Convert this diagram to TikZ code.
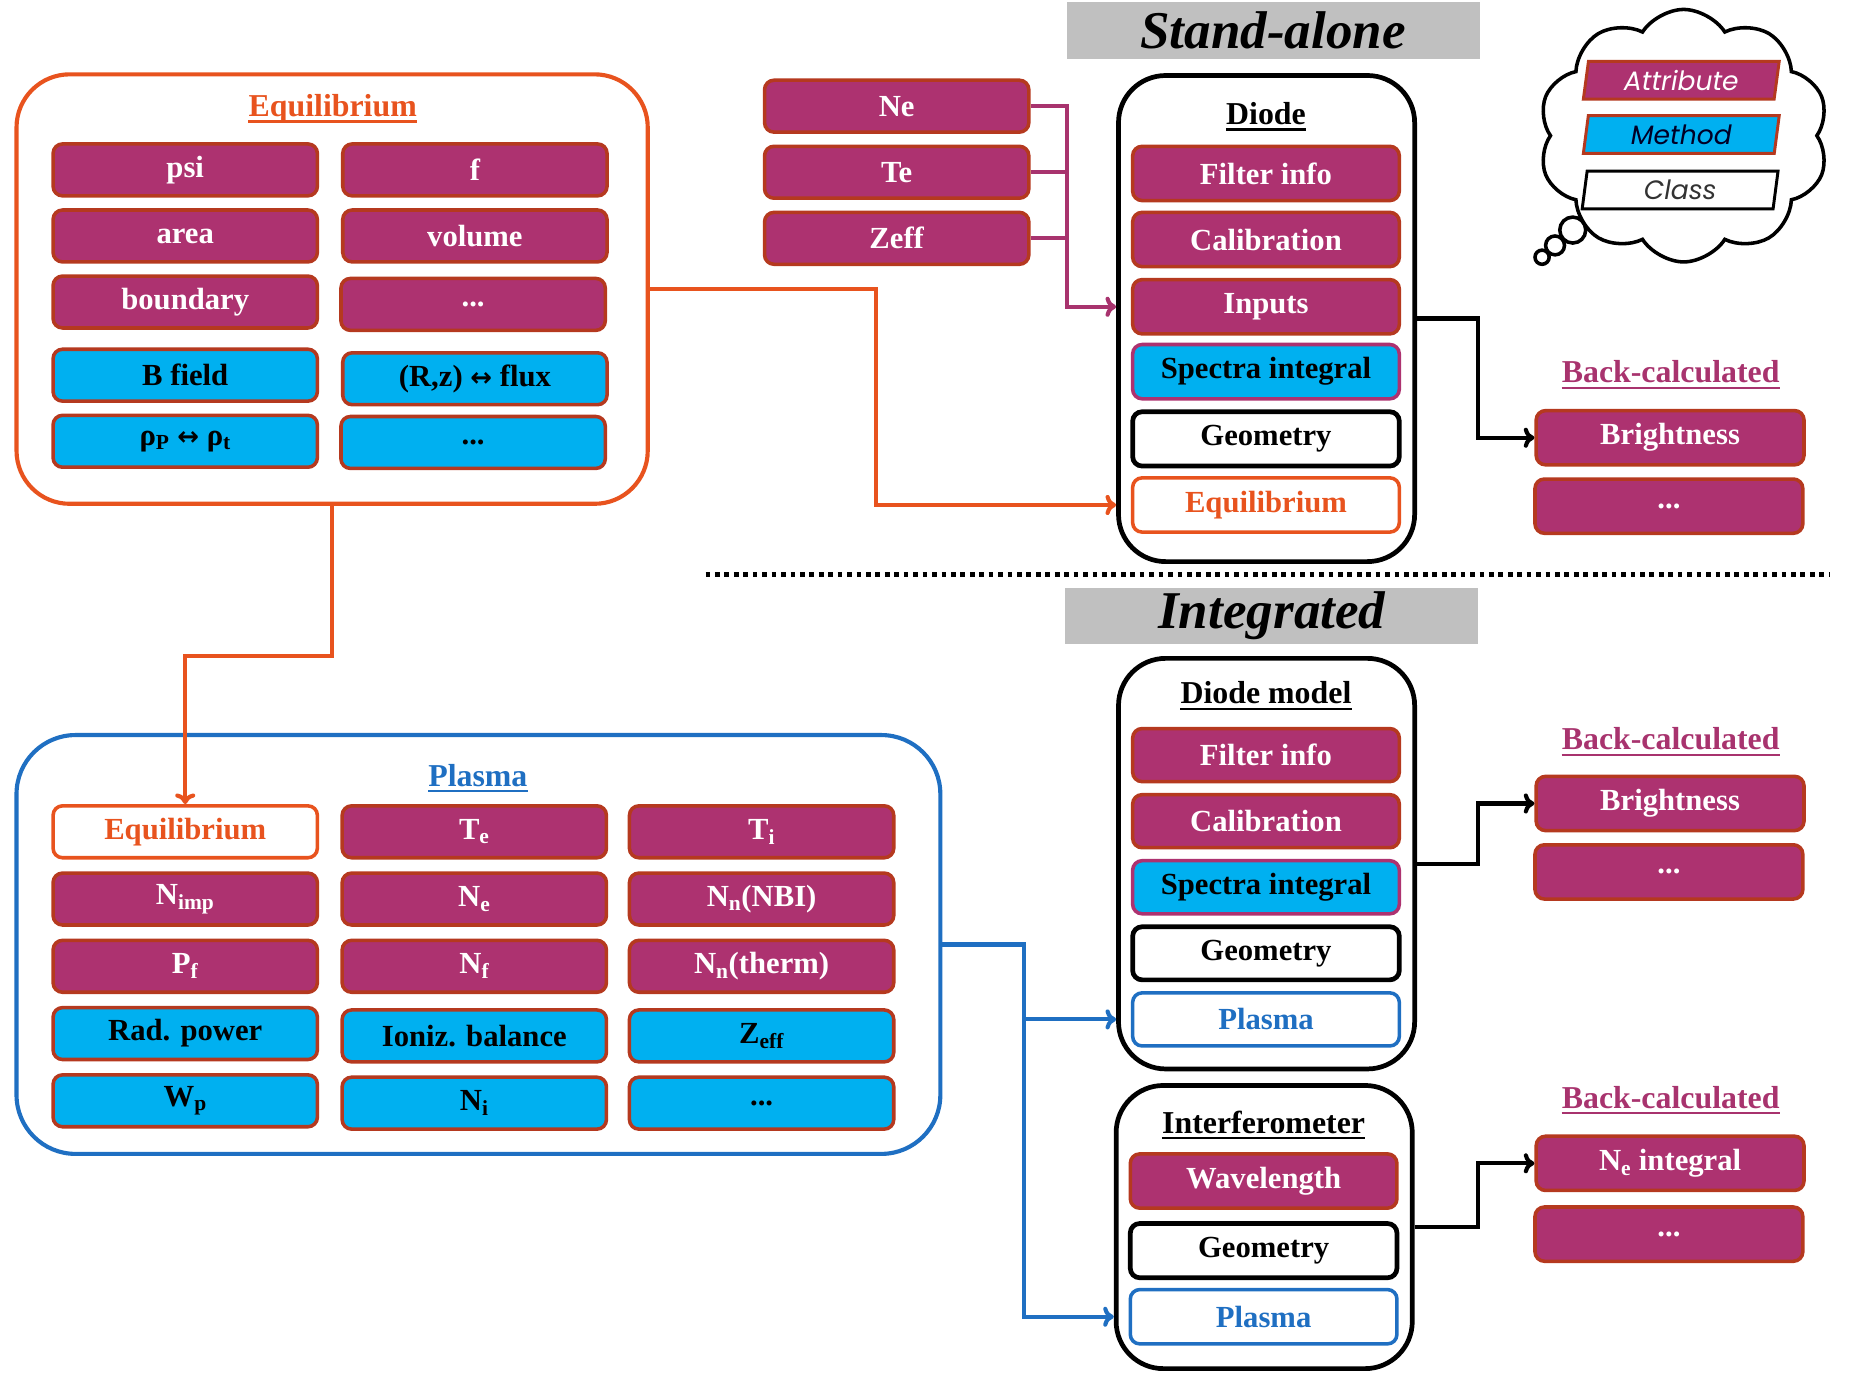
\documentclass[tikz,border=0pt]{standalone}
\usepackage{fontspec}
\setmainfont{Liberation Serif}
\newfontfamily\legfont{Poppins}
\newfontfamily\arrfont{DejaVu Sans}
\newcommand\lrarr{{\arrfont\fontsize{22}{26}\selectfont ↔}}
\usetikzlibrary{arrows.meta,shapes.geometric,shapes.symbols}
\definecolor{attrfill}{HTML}{AD3270}
\definecolor{attrline}{HTML}{B5391F}
\definecolor{methfill}{HTML}{00B0F0}
\definecolor{eqorange}{HTML}{E8531E}
\definecolor{plblue}{HTML}{1F6FC2}
\definecolor{purp}{HTML}{A8336E}
\definecolor{hdrgray}{HTML}{C0C0C0}
\newcommand\ultitle[4]{%
  \node[ttl, text=#3] (#1) at #2 {#4};
  \draw[#3, line width=1.8pt] ([yshift=-4.5pt]#1.base west) -- ([yshift=-4.5pt]#1.base east);}
\begin{document}
\begin{tikzpicture}[x=1pt,y=-1pt,
  box/.style={rectangle, rounded corners=8pt, line width=3pt, minimum width=224pt, minimum height=44pt, inner sep=0pt, font=\bfseries\fontsize{26}{30}\selectfont},
  attr/.style={box, fill=attrfill, draw=attrline, text=white},
  meth/.style={box, fill=methfill, draw=attrline, text=black},
  methp/.style={box, fill=methfill, draw=attrfill, text=black},
  clsref/.style={box, fill=white, draw=black, line width=4pt, text=black},
  eqref/.style={box, fill=white, draw=eqorange, text=eqorange},
  plref/.style={box, fill=white, draw=plblue, text=plblue},
  grp/.style={rectangle, rounded corners=45pt, line width=3.5pt, inner sep=0pt},
  container/.style={rectangle, rounded corners=40pt, draw=black, line width=4pt, inner sep=0pt, minimum width=251pt},
  ttl/.style={inner sep=0pt, font=\bfseries\fontsize{27}{31}\selectfont},
  hdr/.style={fill=hdrgray, minimum width=350pt, minimum height=48pt, inner sep=0pt, font=\bfseries\itshape\fontsize{45}{48}\selectfont},
  conn/.style={line width=3.5pt, -{To[length=9pt,width=17pt]}},
  plain/.style={line width=3.5pt},
  leg/.style={trapezium, trapezium left angle=76, trapezium right angle=104, trapezium stretches body, minimum width=166pt, minimum height=32pt, inner sep=0pt, line width=2.5pt, font=\legfont\itshape\fontsize{22.5}{24}\selectfont}
]
\useasboundingbox (0,0) rectangle (1568,1169);

% ---------- Equilibrium group ----------
\node[grp, draw=eqorange, minimum width=535pt, minimum height=364pt] (eqg) at (281.5,245) {};
\ultitle{eqt}{(282,92)}{eqorange}{Equilibrium}
\node[attr] (psi) at (157,144) {psi};
\node[attr] (f) at (402.5,144) {f};
\node[attr] (area) at (157,200) {area};
\node[attr] (vol) at (402.5,200) {volume};
\node[attr] (bnd) at (157,256) {boundary};
\node[attr] (edots) at (401,258) {...};
\node[meth] (bfield) at (157,318) {B field};
\node[meth] (rzflux) at (402.5,321) {(R,z) \lrarr{} flux};
\node[meth] (rho) at (157,374) {ρ\textsubscript{P} \lrarr{} ρ\textsubscript{t}};
\node[meth] (mdots) at (401,375) {...};

% ---------- inputs ----------
\node[attr] (ne) at (760,90) {Ne};
\node[attr] (te) at (760,146) {Te};
\node[attr] (zeff) at (760,202) {Zeff};

% ---------- headers ----------
\node[hdr] (hsa) at (1079,26) {Stand-alone};
\node[hdr] (hint) at (1078,522) {Integrated};
\draw[line width=4pt, dash pattern=on 4pt off 4pt] (598,487) -- (1551,487);

% ---------- Diode ----------
\node[container, minimum height=412pt] (diode) at (1073.5,270) {};
\ultitle{dt}{(1073,96)}{black}{Diode}
\node[attr, minimum width=226pt, minimum height=46pt] (dfi) at (1073,147) {Filter info};
\node[attr, minimum width=226pt, minimum height=46pt] (dcal) at (1073,203) {Calibration};
\node[attr, minimum width=226pt, minimum height=46pt] (inputs) at (1073,260) {Inputs};
\node[methp, minimum width=226pt, minimum height=46pt] (dspec) at (1073,315) {Spectra integral};
\node[clsref, minimum width=226pt, minimum height=46pt] (dgeo) at (1073,372) {Geometry};
\node[eqref, minimum width=226pt, minimum height=46pt] (dEq) at (1073,428) {Equilibrium};

% ---------- Back-calculated top ----------
\ultitle{bt1}{(1416,315)}{purp}{Back-calculated}
\node[attr, minimum width=227pt, minimum height=46pt] (b1) at (1415.5,371) {Brightness};
\node[attr, minimum width=227pt, minimum height=46pt] (b1d) at (1414.5,429) {...};

% ---------- legend cloud ----------
\node[cloud, draw, fill=white, line width=3pt, cloud puffs=10, cloud puff arc=115, aspect=1.15, minimum width=246pt, minimum height=214pt] (cloud) at (1427,115) {};
\draw[line width=3pt, fill=white] (1333,195) circle (11pt);
\draw[line width=3pt, fill=white] (1318,208) circle (8pt);
\draw[line width=3pt, fill=white] (1307,218) circle (6pt);
\node[leg, fill=attrfill, draw=attrline, text=white] (lgA) at (1425,68) {Attribute};
\node[leg, fill=methfill, draw=attrline, text=black!85!blue] (lgM) at (1425,114) {Method};
\node[leg, fill=white, draw=black, text=black!80] (lgC) at (1424,161) {Class};

% ---------- Plasma group ----------
\node[grp, draw=plblue, rounded corners=50pt, minimum width=783pt, minimum height=355pt] (plg) at (405.5,800.5) {};
\ultitle{plt}{(405,657)}{plblue}{Plasma}
\node[eqref] (pEq) at (157,705) {Equilibrium};
\node[attr] (pte) at (402,705) {T\textsubscript{e}};
\node[attr] (pti) at (645.5,705) {T\textsubscript{i}};
\node[attr] (pnimp) at (157,762) {N\textsubscript{imp}};
\node[attr] (pne) at (402,762) {N\textsubscript{e}};
\node[attr] (pnnbi) at (645.5,762) {N\textsubscript{n}(NBI)};
\node[attr] (ppf) at (157,819) {P\textsubscript{f}};
\node[attr] (pnf) at (402,819) {N\textsubscript{f}};
\node[attr] (pnth) at (645.5,819) {N\textsubscript{n}(therm)};
\node[meth] (prad) at (157,876) {Rad. power};
\node[meth] (pion) at (402,878) {Ioniz. balance};
\node[meth] (pzeff) at (645.5,878) {Z\textsubscript{eff}};
\node[meth] (pwp) at (157,933) {W\textsubscript{p}};
\node[meth] (pni) at (402,935) {N\textsubscript{i}};
\node[meth] (pdots) at (645.5,935) {...};

% ---------- Diode model ----------
\node[container, minimum height=348pt] (dmodel) at (1073.5,732) {};
\ultitle{dmt}{(1073,587)}{black}{Diode model}
\node[attr, minimum width=226pt, minimum height=45pt] (mfi) at (1073,640) {Filter info};
\node[attr, minimum width=226pt, minimum height=45pt] (mcal) at (1073,696) {Calibration};
\node[methp, minimum width=226pt, minimum height=45pt] (mspec) at (1073,752) {Spectra integral};
\node[clsref, minimum width=226pt, minimum height=45pt] (mgeo) at (1073,808) {Geometry};
\node[plref, minimum width=226pt, minimum height=45pt] (dmPl) at (1073,864) {Plasma};

\ultitle{bt2}{(1416,626)}{purp}{Back-calculated}
\node[attr, minimum width=227pt, minimum height=46pt] (b2) at (1415.5,681) {Brightness};
\node[attr, minimum width=227pt, minimum height=46pt] (b2d) at (1414.5,739) {...};

% ---------- Interferometer ----------
\node[container, minimum height=240pt] (interf) at (1071.5,1040) {};
\ultitle{ift}{(1071,951)}{black}{Interferometer}
\node[attr, minimum width=226pt, minimum height=46pt] (iwl) at (1071,1001) {Wavelength};
\node[clsref, minimum width=226pt, minimum height=46pt] (igeo) at (1071,1060) {Geometry};
\node[plref, minimum width=226pt, minimum height=46pt] (ifPl) at (1071,1116) {Plasma};

\ultitle{bt3}{(1416,930)}{purp}{Back-calculated}
\node[attr, minimum width=227pt, minimum height=46pt] (b3) at (1415.5,986) {N\textsubscript{e} integral};
\node[attr, minimum width=227pt, minimum height=46pt] (b3d) at (1414.5,1046) {...};

% ---------- connectors ----------
\draw[conn, eqorange] (eqg.east) -- ++(192,0) |- (diode.west |- dEq.west);
\draw[conn, eqorange] (eqg.south) -- ++(0,127) -| (pEq.north);
\draw[conn, purp] (ne.east) -- ++(31,0) |- (diode.west |- inputs.west);
\draw[plain, purp] (te.east) -- ++(31,0);
\draw[plain, purp] (zeff.east) -- ++(31,0);
\draw[conn] (diode.east) -- ++(52,0) |- (b1.west);
\draw[conn] (dmodel.east) -- ++(52,0) |- (b2.west);
\draw[conn] (interf.east) -- ++(54,0) |- (b3.west);
\draw[conn, plblue] (plg.east) -- ++(69,0) |- (dmodel.west |- dmPl.west);
\draw[conn, plblue] (plg.east) -- ++(69,0) |- (interf.west |- ifPl.west);
\end{tikzpicture}
\end{document}
